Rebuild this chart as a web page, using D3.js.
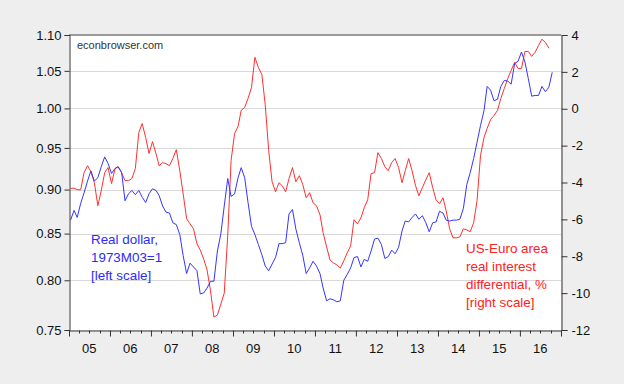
<!DOCTYPE html>
<html lang="en">
<head>
<meta charset="UTF-8">
<title>Real dollar and US-Euro real interest differential</title>
<script src="https://d3js.org/d3.v7.min.js"></script>
<style>
  html, body { margin: 0; padding: 0; background: #eeeeee; }
  svg { display: block; font-family: "Liberation Sans", Arial, sans-serif; }
</style>
</head>
<body>
<svg id="chart" width="624" height="384"></svg>
<script>
(function () {
  'use strict';

  // monthly, starting 2005M01
  const startYear = 2005;

  // real dollar index, 1973M03=1 (left scale)
  const realDollar = [
    0.865, 0.876, 0.868, 0.884, 0.896, 0.910, 0.922, 0.910, 0.914, 0.927, 0.939, 0.931,
    0.919, 0.925, 0.927, 0.920, 0.887, 0.895, 0.899, 0.894, 0.899, 0.891, 0.885, 0.895,
    0.901, 0.899, 0.893, 0.881, 0.874, 0.873, 0.862, 0.860, 0.849, 0.826, 0.807, 0.818,
    0.814, 0.810, 0.786, 0.787, 0.792, 0.799, 0.799, 0.831, 0.850, 0.881, 0.913, 0.892,
    0.895, 0.914, 0.926, 0.914, 0.885, 0.858, 0.849, 0.838, 0.827, 0.815, 0.810, 0.817,
    0.824, 0.839, 0.839, 0.840, 0.872, 0.877, 0.855, 0.840, 0.826, 0.807, 0.813, 0.820,
    0.815, 0.807, 0.792, 0.779, 0.781, 0.780, 0.778, 0.779, 0.800, 0.806, 0.813, 0.824,
    0.825, 0.814, 0.822, 0.820, 0.831, 0.844, 0.845, 0.838, 0.823, 0.825, 0.832, 0.828,
    0.835, 0.853, 0.864, 0.863, 0.868, 0.872, 0.866, 0.870, 0.862, 0.852, 0.862, 0.863,
    0.875, 0.873, 0.865, 0.864, 0.865, 0.865, 0.866, 0.878, 0.906, 0.920, 0.937, 0.957,
    0.978, 0.997, 1.029, 1.024, 1.010, 1.012, 1.029, 1.037, 1.036, 1.032, 1.060, 1.063,
    1.076, 1.062, 1.040, 1.016, 1.017, 1.017, 1.029, 1.022, 1.028, 1.048
  ];

  // US-Euro area real interest differential, % (right scale)
  const rateDiff = [
    -4.32, -4.31, -4.39, -4.39, -3.47, -3.09, -3.41, -4.01, -5.26, -4.45, -3.47, -3.19,
    -4.06, -3.25, -3.14, -3.47, -3.90, -3.90, -3.79, -3.25, -1.29, -0.80, -1.56, -2.43,
    -1.78, -2.43, -3.09, -2.92, -2.98, -3.09, -2.70, -2.22, -3.36, -4.61, -5.97, -6.24,
    -6.51, -7.33, -7.66, -8.15, -8.74, -9.89, -11.30, -11.19, -10.59, -10.00, -6.89, -2.81,
    -1.35, -0.96, -0.09, 0.07, 0.56, 1.16, 2.79, 2.24, 1.86, 0.23, -2.27, -3.96,
    -4.50, -4.01, -4.17, -4.50, -3.79, -3.19, -3.96, -3.63, -4.12, -4.83, -4.55, -5.10,
    -5.26, -5.75, -6.73, -7.49, -8.20, -8.36, -8.47, -8.64, -8.25, -7.82, -7.44, -6.02,
    -6.24, -5.91, -5.37, -4.94, -3.52, -3.47, -2.38, -2.70, -3.14, -3.36, -2.92, -2.70,
    -3.19, -4.01, -3.36, -2.70, -3.36, -4.17, -4.72, -4.28, -3.85, -3.47, -4.28, -4.94,
    -5.15, -4.83, -5.53, -6.51, -7.00, -7.00, -6.95, -6.51, -6.57, -6.67, -6.18, -4.99,
    -2.54, -1.56, -1.07, -0.58, -0.37, -0.09, 0.56, 1.10, 1.65, 2.08, 2.52, 2.19,
    2.19, 3.11, 3.11, 2.84, 3.06, 3.44, 3.77, 3.60, 3.28
  ];

  const leftTicks = [0.75, 0.80, 0.85, 0.90, 0.95, 1.00, 1.05, 1.10];
  const rightTicks = [4, 2, 0, -2, -4, -6, -8, -10, -12];
  const yearLabels = ['05', '06', '07', '08', '09', '10', '11', '12', '13', '14', '15', '16'];

  const plot = { left: 69, right: 561, top: 35, bottom: 330 };

  const svg = d3.select('#chart');

  const x = d3.scaleTime()
      .domain([new Date(2005, 0, 1), new Date(2017, 0, 1)])
      .range([plot.left, plot.right]);
  const yLeft = d3.scaleLog()
      .domain([0.75, 1.10])
      .range([plot.bottom, plot.top]);
  const yRight = d3.scaleLinear()
      .domain([-12, 4])
      .range([plot.bottom, plot.top]);

  const monthDate = i => new Date(startYear + Math.floor(i / 12), i % 12, 15);

  // plot area
  svg.append('rect')
      .attr('x', plot.left).attr('y', plot.top)
      .attr('width', plot.right - plot.left).attr('height', plot.bottom - plot.top)
      .attr('fill', '#ffffff');

  // grid lines (from left axis ticks)
  svg.append('g')
      .selectAll('line')
      .data(leftTicks.filter(d => d > 0.75 && d < 1.10))
      .join('line')
      .attr('x1', plot.left).attr('x2', plot.right)
      .attr('y1', d => Math.round(yLeft(d)) + 0.5)
      .attr('y2', d => Math.round(yLeft(d)) + 0.5)
      .attr('stroke', '#d9d9d9')
      .attr('stroke-width', 1);

  // series
  const lineLeft = d3.line()
      .x((d, i) => x(monthDate(i)))
      .y(d => yLeft(d));
  const lineRight = d3.line()
      .x((d, i) => x(monthDate(i)))
      .y(d => yRight(d));

  svg.append('path')
      .datum(rateDiff)
      .attr('d', lineRight)
      .attr('fill', 'none')
      .attr('stroke', '#ff3030')
      .attr('stroke-width', 1);

  svg.append('path')
      .datum(realDollar)
      .attr('d', lineLeft)
      .attr('fill', 'none')
      .attr('stroke', '#3535ff')
      .attr('stroke-width', 1);

  // frame: top border gray, axes dark
  svg.append('line')
      .attr('x1', plot.left).attr('x2', plot.right)
      .attr('y1', plot.top).attr('y2', plot.top)
      .attr('stroke', '#9a9a9a').attr('stroke-width', 2);

  const axisColor = '#333333';

  // left axis
  const gL = svg.append('g')
      .attr('transform', `translate(${plot.left + 0.5},0)`)
      .call(d3.axisLeft(yLeft).tickValues(leftTicks).tickFormat(d3.format('.2f'))
          .tickSize(5).tickPadding(3));

  // right axis
  const gR = svg.append('g')
      .attr('transform', `translate(${plot.right + 0.5},0)`)
      .call(d3.axisRight(yRight).tickValues(rightTicks).tickFormat(d => d < 0 ? '-' + Math.abs(d) : d)
          .tickSize(6).tickPadding(4));

  // bottom axis: major year ticks and quarterly minor ticks
  const years = d3.timeYear.range(new Date(2005, 0, 1), new Date(2017, 0, 2));
  const quarters = d3.timeMonth.every(3).range(new Date(2005, 0, 1), new Date(2017, 0, 1))
      .filter(d => d.getMonth() !== 0);

  const gB = svg.append('g')
      .attr('transform', `translate(0,${plot.bottom + 0.5})`)
      .call(d3.axisBottom(x).tickValues(years).tickFormat('').tickSize(6).tickSizeOuter(0));
  gB.append('g')
      .selectAll('line')
      .data(quarters)
      .join('line')
      .attr('x1', d => Math.round(x(d)) + 0.5).attr('x2', d => Math.round(x(d)) + 0.5)
      .attr('y1', 0).attr('y2', 3)
      .attr('stroke', axisColor);
  gB.append('g')
      .selectAll('text')
      .data(yearLabels)
      .join('text')
      .attr('x', (d, i) => x(new Date(startYear + i, 6, 1)))
      .attr('y', 22)
      .attr('text-anchor', 'middle')
      .attr('fill', '#111')
      .style('font-size', '13px')
      .text(d => d);

  [gL, gR, gB].forEach(g => {
    g.selectAll('.domain').attr('stroke', axisColor);
    g.selectAll('.tick line').attr('stroke', axisColor);
    g.selectAll('.tick text')
        .attr('fill', '#111')
        .style('font-size', '13px')
        .style('font-family', '"Liberation Sans", Arial, sans-serif');
  });

  // annotations
  svg.append('text')
      .attr('x', 77).attr('y', 49)
      .attr('fill', '#333')
      .style('font-size', '11px')
      .text('econbrowser.com');

  const blueNote = ['Real dollar,', '1973M03=1', '[left scale]'];
  svg.append('g')
      .selectAll('text')
      .data(blueNote)
      .join('text')
      .attr('x', 91)
      .attr('y', (d, i) => 244 + i * 18)
      .attr('fill', '#2b2bff')
      .style('font-size', '13.4px')
      .text(d => d);

  const redNote = ['US-Euro area', 'real interest', 'differential, %', '[right scale]'];
  svg.append('g')
      .selectAll('text')
      .data(redNote)
      .join('text')
      .attr('x', 466)
      .attr('y', (d, i) => 253 + i * 18)
      .attr('fill', '#ff2020')
      .style('font-size', '13.4px')
      .text(d => d);
}());
</script>
</body>
</html>
